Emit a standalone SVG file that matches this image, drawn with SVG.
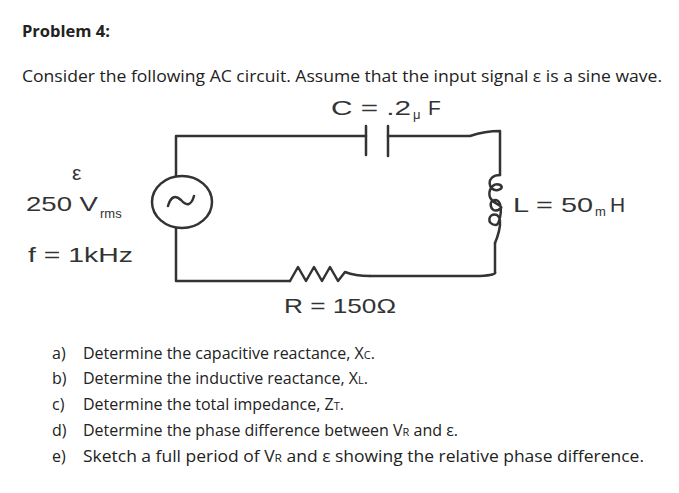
<svg xmlns="http://www.w3.org/2000/svg" width="679" height="493" viewBox="0 0 679 493">
<style>
.t{font-family:"Open Sans","Liberation Sans",sans-serif;font-size:16px;fill:#222}
.h{font-family:"Liberation Sans",sans-serif;font-size:21px;fill:#333}
.s{font-size:13px}
.w{fill:none;stroke:#333;stroke-width:2.5;stroke-linecap:round;stroke-linejoin:round}
</style>
<rect width="679" height="493" fill="#fff"/>
<text class="t" x="22" y="37" font-weight="bold" textLength="88" lengthAdjust="spacingAndGlyphs">Problem 4:</text>
<text class="t" x="22" y="82" textLength="640" lengthAdjust="spacingAndGlyphs">Consider the following AC circuit. Assume that the input signal  ε is a sine wave.</text>
<g id="connectors">
<path class="w" d="M176 176 V136 H366 M388 136 H470 Q485 131 500 131 V175 M495 243 V272 Q497 275 480 276 H370 M290 281 H176 V228"/>
</g>
<g id="source">
<ellipse class="w" cx="182" cy="202" rx="30" ry="26"/>
<path class="w" d="M168 206 Q172 192 181 200 Q190 210 194 196"/>
</g>
<g id="capacitor">
<path class="w" d="M366 126 V155 M388 126 V156"/>
<text class="h" x="331" y="115" textLength="80" lengthAdjust="spacingAndGlyphs">C = .2</text><text class="h s" x="413" y="119">μ</text><text class="h" x="428" y="115">F</text>
</g>
<g id="inductor">
<path class="w" d="M500 175 C485 175 488 192 498 190 C508 188 495 178 490 190 C485 205 510 205 498 210 C490 213 488 200 495 200 C505 200 500 225 496 225 C486 225 488 212 497 215 C505 220 495 243 495 243"/>
<text class="h" x="513" y="212" textLength="80" lengthAdjust="spacingAndGlyphs">L = 50</text><text class="h s" x="595" y="216">m</text><text class="h" x="610" y="212">H</text>
</g>
<g id="resistor">
<path class="w" d="M290 281 L298 267 L306 281 L314 267 L322 281 L330 267 L338 281 L345 272 Q355 276 370 276"/>
<text class="h" x="284" y="313" textLength="112" lengthAdjust="spacingAndGlyphs">R = 150Ω</text>
</g>
<g id="source-labels">
<text class="h" x="72" y="180" font-size="22">ε</text>
<text class="h" x="26" y="211" textLength="72" lengthAdjust="spacingAndGlyphs">250 V</text><text class="h s" x="100" y="218">rms</text>
<text class="h" x="28" y="262" textLength="105" lengthAdjust="spacingAndGlyphs">f = 1kHz</text>
</g>
<g id="questions" class="t">
<text x="52" y="359">a)</text><text x="83" y="359">Determine the capacitive reactance, X<tspan font-size="11">C</tspan>.</text>
<text x="52" y="384">b)</text><text x="83" y="384">Determine the inductive reactance, X<tspan font-size="11">L</tspan>.</text>
<text x="52" y="410">c)</text><text x="83" y="410">Determine the total impedance, Z<tspan font-size="11">T</tspan>.</text>
<text x="52" y="436">d)</text><text x="83" y="436">Determine the phase difference between V<tspan font-size="11">R</tspan> and ε.</text>
<text x="52" y="462">e)</text><text x="83" y="462" textLength="561" lengthAdjust="spacingAndGlyphs">Sketch a full period of V<tspan font-size="11">R</tspan> and ε showing the relative phase difference.</text>
</g>
</svg>
